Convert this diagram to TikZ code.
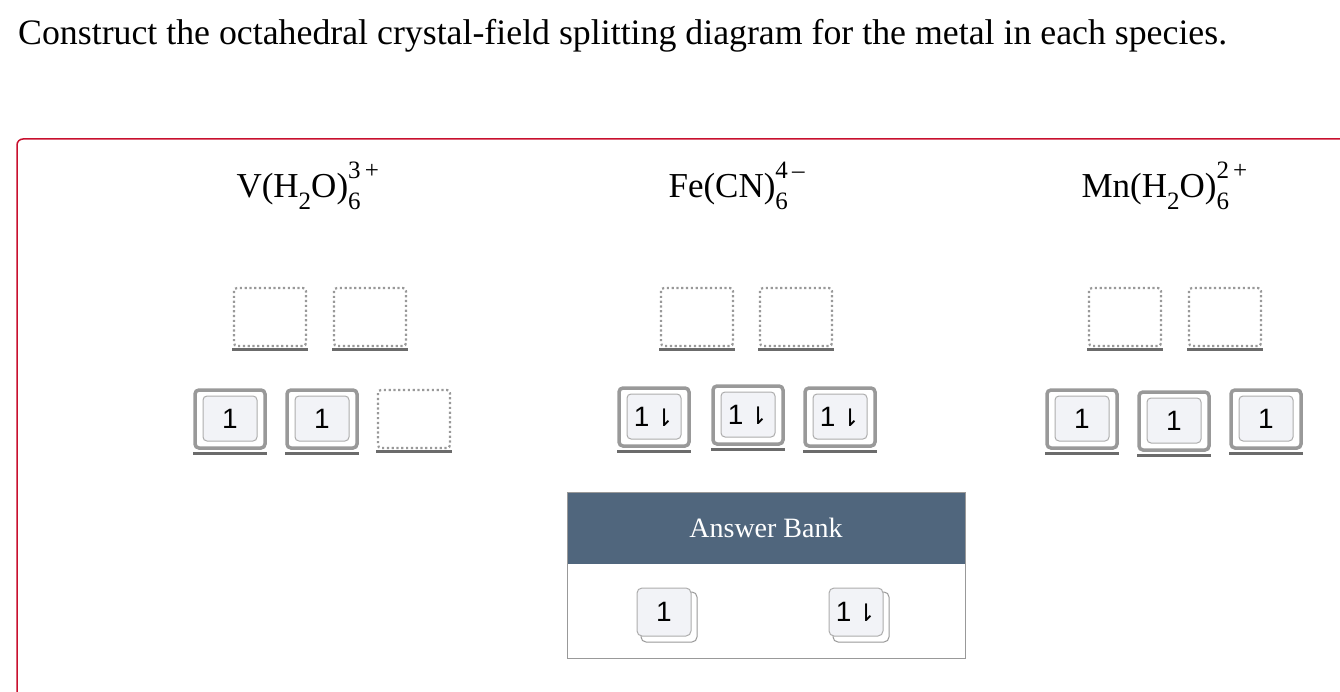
\documentclass[tikz,border=0pt]{standalone}
\usepackage{fontspec}
\setmainfont{Liberation Serif}
\newfontfamily\tilefont{DejaVu Sans}
\newfontfamily\arwfont{Liberation Sans}
\definecolor{framered}{HTML}{C8102E}
\definecolor{bankhead}{HTML}{50667D}
\definecolor{tilefill}{HTML}{F2F3F7}
\definecolor{tilegray}{HTML}{999999}
\newcommand{\lo}[1]{\raisebox{-0.32em}{\fontsize{25}{25}\selectfont #1}}
\newcommand{\supsub}[2]{\makebox[0pt][l]{\raisebox{0.55em}{\fontsize{25}{25}\selectfont #1}}\lo{#2}}
\newcommand{\up}{{\arwfont 1}}
\newcommand{\dn}{{\tilefont\fontsize{24}{24}\selectfont ⇂}}
\tikzset{
  slotbox/.style={draw=tilegray, line width=2.2pt, dash pattern=on 2.2pt off 2.6pt, rounded corners=3pt},
  outerbox/.style={draw=tilegray, line width=3.5pt, fill=white, rounded corners=4pt},
  innerbox/.style={draw=tilegray!80, line width=1pt, fill=tilefill, rounded corners=4pt},
  bar/.style={draw=tilegray!70!black, line width=3pt},
  formula/.style={font=\fontsize{35}{35}\selectfont},
  tiletext/.style={font=\arwfont\fontsize{28}{28}\selectfont},
}
\newcommand{\slotat}[3]{%
  \draw[slotbox] (#2,-#3) rectangle ++(72,-58);
  \draw[bar] (#2-2,-#3-61) -- ++(76,0);
}
\newcommand{\tileat}[4]{%
  \draw[outerbox] (#2,-#3) rectangle ++(70,-58);
  \draw[innerbox] (#2+8,-#3-6) rectangle ++(54,-45);
  \node[tiletext] (#1) at (#2+35,-#3-29) {#4};
  \draw[bar] (#2-2,-#3-63) -- ++(74,0);
}
\newcommand{\banktile}[4]{%
  \draw[draw=tilegray,line width=1pt,fill=white,rounded corners=5pt] (#2+4,-#3-4) rectangle ++(56,-50);
  \draw[draw=tilegray!80,line width=1pt,fill=tilefill,rounded corners=5pt] (#2,-#3) rectangle ++(54,-48);
  \node[tiletext] (#1) at (#2+27,-#3-24) {#4};
}
\begin{document}
\begin{tikzpicture}[x=1pt,y=1pt]
\useasboundingbox (0,0) rectangle (1340,-692);
\node[anchor=base west,font=\fontsize{35.8}{36}\selectfont,inner sep=0] (title) at (18,-45) {Construct the octahedral crystal-field splitting diagram for the metal in each species.};
\draw[framered,line width=1.5pt,rounded corners=6pt] (1345,-139) -- (17,-139) -- (17,-700);
\node[formula,anchor=base west] (v) at (233,-198) {V(H\lo{2}O)\supsub{3\,+}{6}};
\node[formula,anchor=base west] (fe) at (665,-198) {Fe(CN)\supsub{4\,\textendash}{6}};
\node[formula,anchor=base west] (mn) at (1078,-198) {Mn(H\lo{2}O)\supsub{2\,+}{6}};
\slotat{s1}{234}{288}\slotat{s2}{334}{288}
\slotat{s3}{661}{288}\slotat{s4}{760}{288}
\slotat{s5}{1089}{288}\slotat{s6}{1189}{288}
\tileat{t1}{195}{390}{\up}\tileat{t2}{287}{390}{\up}\slotat{s7}{378}{390}
\tileat{t3}{619}{388}{\up\,\dn}\tileat{t4}{713}{386}{\up\,\dn}\tileat{t5}{805}{388}{\up\,\dn}
\tileat{t6}{1047}{390}{\up}\tileat{t7}{1139}{392}{\up}\tileat{t8}{1231}{390}{\up}
\draw[tilegray,line width=1pt,fill=white] (567,-492) rectangle (965,-658);
\fill[bankhead] (567.5,-492.5) rectangle (964.5,-564);
\node[white,font=\fontsize{28}{28}\selectfont] (bank) at (766,-528) {Answer Bank};
\banktile{b1}{637}{588}{\up}\banktile{b2}{829}{588}{\up\,\dn}
\end{tikzpicture}
\end{document}
